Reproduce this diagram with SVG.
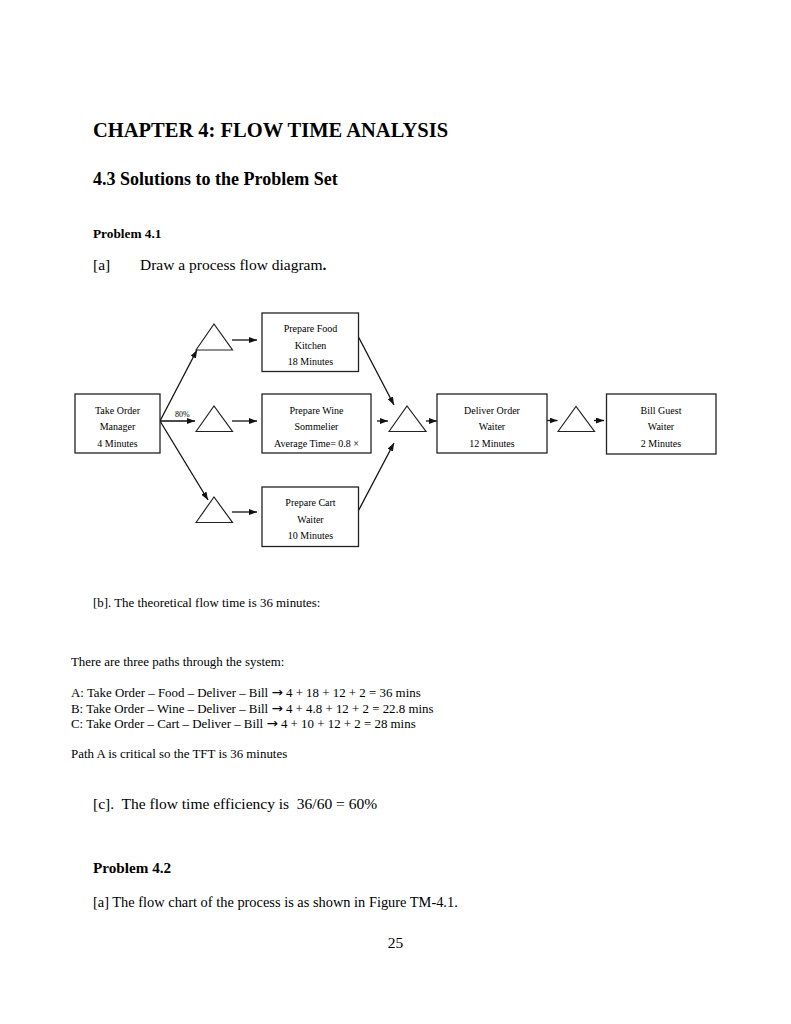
<svg xmlns="http://www.w3.org/2000/svg" width="791" height="1024" viewBox="0 0 791 1024">
<style>
text{font-family:"Liberation Serif","Times New Roman",serif;fill:#000}
.b{font-weight:bold}
.n{font-size:10px;text-anchor:middle}
.box{fill:#fff;stroke:#222;stroke-width:1.3}
.tri{fill:#fff;stroke:#222;stroke-width:1.2}
.c{fill:none;stroke:#111;stroke-width:1.3;marker-end:url(#ah)}
.body{font-size:12.9px}
.big{font-size:15.5px}
.ar{font-family:"DejaVu Sans",sans-serif;font-size:13.5px}
</style>
<defs>
<marker id="ah" markerUnits="userSpaceOnUse" markerWidth="8" markerHeight="6" refX="8" refY="3" orient="auto">
<path d="M0,0 L8,3 L0,6 z" fill="#111"/>
</marker>
</defs>
<rect width="791" height="1024" fill="#fff"/>

<text x="93" y="137" class="b" font-size="20.5">CHAPTER 4: FLOW TIME ANALYSIS</text>
<text x="93" y="185" class="b" font-size="18">4.3 Solutions to the Problem Set</text>
<text x="93" y="237.5" class="b" font-size="13.3">Problem 4.1</text>
<text x="93" y="270" class="big">[a]</text>
<text x="140" y="270" class="big">Draw a process flow diagram<tspan class="b">.</tspan></text>

<g id="connectors">
<line class="c" x1="160" y1="421" x2="197" y2="350"/>
<line class="c" x1="160" y1="421" x2="195" y2="421"/>
<line class="c" x1="160" y1="421" x2="208" y2="500"/>
<line class="c" x1="232" y1="340" x2="257" y2="340"/>
<line class="c" x1="232" y1="421" x2="257" y2="421"/>
<line class="c" x1="232" y1="512" x2="257" y2="512"/>
<line class="c" x1="358.5" y1="337" x2="394" y2="405"/>
<line class="c" x1="377" y1="421" x2="388" y2="421"/>
<line class="c" x1="358.5" y1="510.5" x2="394" y2="443"/>
<line class="c" x1="426" y1="421" x2="437" y2="421"/>
<line class="c" x1="547" y1="420.5" x2="557.5" y2="420.5"/>
<line class="c" x1="594" y1="420.5" x2="604" y2="420.5"/>
</g>

<g id="take-order">
<rect class="box" x="75" y="394" width="85" height="59"/>
<text class="n" x="117.5" y="413.5">Take Order</text>
<text class="n" x="117.5" y="430">Manager</text>
<text class="n" x="117.5" y="446.5">4 Minutes</text>
</g>
<text x="175" y="417" font-size="8">80%</text>

<g id="inv-food"><polygon class="tri" points="196,350 214,324 232.5,350"/></g>
<g id="inv-wine"><polygon class="tri" points="196,431.5 214,406 232.5,431.5"/></g>
<g id="inv-cart"><polygon class="tri" points="196,522.5 214,497 232.5,522.5"/></g>

<g id="prepare-food">
<rect class="box" x="262" y="313" width="96.5" height="58.5"/>
<text class="n" x="310.5" y="332">Prepare Food</text>
<text class="n" x="310.5" y="348.5">Kitchen</text>
<text class="n" x="310.5" y="365">18 Minutes</text>
</g>
<g id="prepare-wine">
<rect class="box" x="262" y="394" width="109" height="59"/>
<text class="n" x="316.5" y="413.5">Prepare Wine</text>
<text class="n" x="316.5" y="430">Sommelier</text>
<text class="n" x="316.5" y="446.5">Average Time= 0.8 ×</text>
</g>
<g id="prepare-cart">
<rect class="box" x="262" y="487" width="96.5" height="59.5"/>
<text class="n" x="310.5" y="506">Prepare Cart</text>
<text class="n" x="310.5" y="522.5">Waiter</text>
<text class="n" x="310.5" y="539">10 Minutes</text>
</g>

<g id="inv-deliver"><polygon class="tri" points="389,431.5 407,406 426,431.5"/></g>

<g id="deliver-order">
<rect class="box" x="437" y="394" width="110" height="59"/>
<text class="n" x="492" y="413.5">Deliver Order</text>
<text class="n" x="492" y="430">Waiter</text>
<text class="n" x="492" y="446.5">12 Minutes</text>
</g>

<g id="inv-bill"><polygon class="tri" points="558,431.5 576,406.5 594.5,431.5"/></g>

<g id="bill-guest">
<rect class="box" x="606.5" y="394" width="109.5" height="60"/>
<text class="n" x="661" y="413.5">Bill Guest</text>
<text class="n" x="661" y="430">Waiter</text>
<text class="n" x="661" y="446.5">2 Minutes</text>
</g>

<text x="93" y="606.5" class="body">[b]. The theoretical flow time is 36 minutes:</text>
<text x="71" y="666" class="body">There are three paths through the system:</text>
<text x="71" y="697" class="body">A: Take Order – Food – Deliver – Bill <tspan class="ar">→</tspan> 4 + 18 + 12 + 2 = 36 mins</text>
<text x="71" y="712.5" class="body">B: Take Order – Wine – Deliver – Bill <tspan class="ar">→</tspan> 4 + 4.8 + 12 + 2 = 22.8 mins</text>
<text x="71" y="728" class="body">C: Take Order – Cart – Deliver – Bill <tspan class="ar">→</tspan> 4 + 10 + 12 + 2 = 28 mins</text>
<text x="71" y="757.5" class="body">Path A is critical so the TFT is 36 minutes</text>

<text x="93" y="808.5" class="big" xml:space="preserve">[c].  The flow time efficiency is  36/60 = 60%</text>
<text x="93" y="873" class="b" font-size="15.2">Problem 4.2</text>
<text x="93" y="906.5" font-size="14.4">[a]  The flow chart of the process is as shown in Figure TM-4.1.</text>
<text x="395.5" y="948" class="big" text-anchor="middle">25</text>
</svg>
